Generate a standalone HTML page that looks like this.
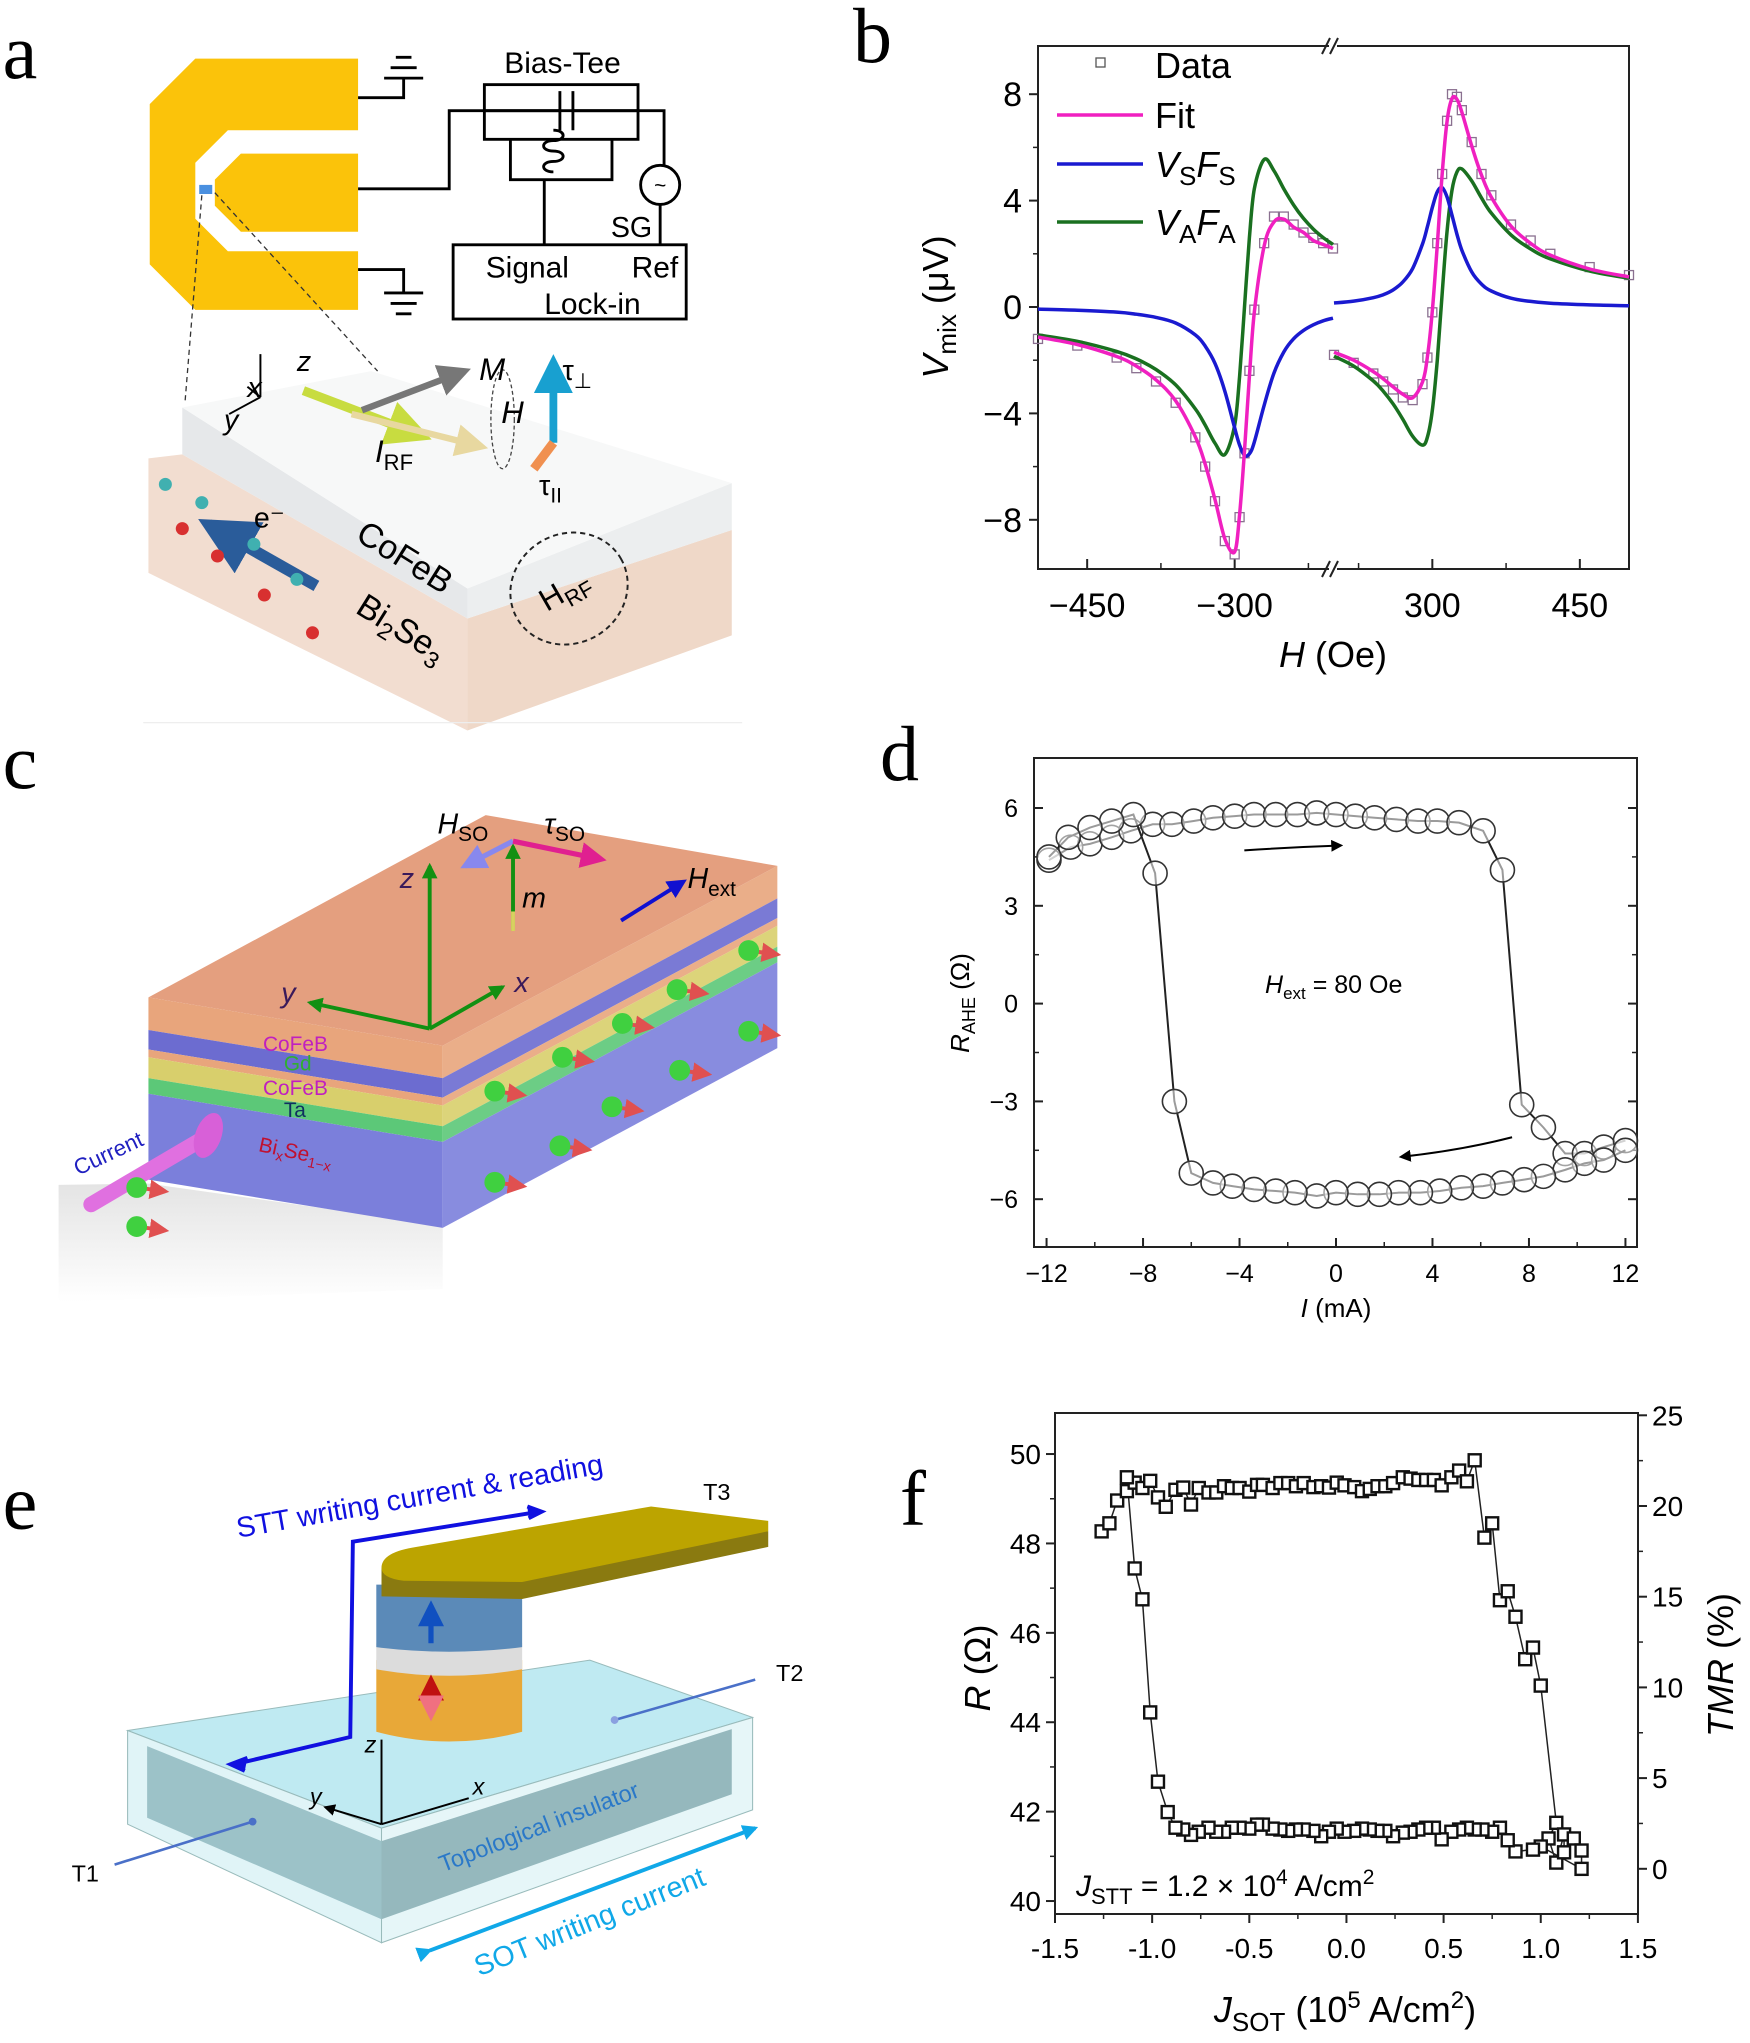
<!DOCTYPE html>
<html><head><meta charset="utf-8"><style>
html,body{margin:0;padding:0;background:#fff;}
svg{display:block;font-family:"Liberation Sans",sans-serif;}
.lbl{font-family:"Liberation Serif",serif;font-size:60px;}
</style></head><body>
<svg id="fig" width="1750" height="2043" viewBox="0 0 1750 2043" xmlns="http://www.w3.org/2000/svg">
<defs>
<marker id="ah" viewBox="0 0 10 10" refX="8" refY="5" markerWidth="5" markerHeight="5" orient="auto"><path d="M0,0L10,5L0,10z" fill="context-stroke"/></marker>
<marker id="ahk" viewBox="0 0 10 10" refX="8" refY="5" markerWidth="6" markerHeight="6" orient="auto"><path d="M0,0L10,5L0,10z" fill="#000"/></marker>
<marker id="ahb" viewBox="0 0 10 10" refX="8" refY="5" markerWidth="4" markerHeight="4" orient="auto"><path d="M0,0L10,5L0,10z" fill="#1010e0"/></marker>
<marker id="ahc" viewBox="0 0 10 10" refX="8" refY="5" markerWidth="4" markerHeight="4" orient="auto"><path d="M0,0L10,5L0,10z" fill="#10a8e8"/></marker>
<marker id="ahg" viewBox="0 0 10 10" refX="8" refY="5" markerWidth="4" markerHeight="4" orient="auto"><path d="M0,0L10,5L0,10z" fill="#129012"/></marker>
<linearGradient id="shadowGrad" x1="0" y1="0" x2="0" y2="1"><stop offset="0" stop-color="#ddd"/><stop offset="1" stop-color="#fff"/></linearGradient>
</defs>

<g transform="scale(1.30208)">
 <g>
  <text class="lbl" x="2" y="60">a</text>
  <path d="M150,45 L275,45 L275,100 L175,100 L150,125 L150,168 L175,193 L275,193 L275,238 L150,238 L115,203 L115,80 Z" fill="#fbc30a"/>
  <path d="M185,118 L275,118 L275,178 L185,178 L165,158 L165,138 Z" fill="#fbc30a"/>
  <rect x="153" y="142" width="10" height="7" fill="#4a90e0"/>
  <g fill="none" stroke="#000" stroke-width="2.2">
   <path d="M275,75 L310,75 L310,60 M295,60 L325,60 M300,52 L320,52 M304,44 L316,44"/>
   <path d="M275,207 L310,207 L310,225 M295,225 L325,225 M300,233 L320,233 M304,241 L316,241"/>
   <path d="M275,145 L345,145 L345,85 L510,85 L510,127"/>
   <rect x="372" y="65" width="118" height="42"/>
   <path d="M430,70 L430,100 M440,70 L440,100 M372,85 L430,85 M440,85 L490,85"/>
   <path d="M392,107 L392,138 L470,138 L470,107 M418,138 L418,188"/>
   <path d="M425,100 c10,0 10,8 0,8 c-10,0 -10,8 0,8 c10,0 10,8 0,8 c-10,0 -10,8 0,8"/>
   <circle cx="507" cy="142" r="15"/>
   <path d="M507,157 L507,188"/>
   <rect x="348" y="188" width="179" height="57"/>
  </g>
  <text x="432" y="56" font-size="23" text-anchor="middle">Bias-Tee</text>
  <text x="507" y="148" font-size="16" text-anchor="middle">~</text>
  <text x="485" y="182" font-size="22" text-anchor="middle">SG</text>
  <text x="405" y="213" font-size="23" text-anchor="middle">Signal</text>
  <text x="503" y="213" font-size="23" text-anchor="middle">Ref</text>
  <text x="455" y="241" font-size="23" text-anchor="middle">Lock-in</text>
  <path d="M155,150 L142,310 M165,148 L290,285" stroke="#333" stroke-width="1" stroke-dasharray="4,3" fill="none"/>
  <polygon points="114,352 140,349 359,475 359,561 114,440" fill="#f2ddd0"/>
  <polygon points="359,475 562,407 562,488 359,561" fill="#efd8c8"/>
  <polygon points="140,313 140,349 359,475 359,452" fill="#e6e8ea"/>
  <polygon points="359,452 562,371 562,407 359,475" fill="#eceeef"/>
  <polygon points="140,313 285,285 562,371 359,452" fill="#f7f8f8"/>
  <path d="M110,555 L570,555" stroke="#eee" stroke-width="1"/>
  <g>
   <line x1="233" y1="300" x2="325" y2="335" stroke="#c8dc40" stroke-width="7" marker-end="url(#ah)"/>
   <line x1="278" y1="315" x2="357" y2="285" stroke="#777" stroke-width="5" marker-end="url(#ah)"/>
   <line x1="270" y1="318" x2="370" y2="343" stroke="#e8d8a0" stroke-width="5" marker-end="url(#ah)"/>
   <line x1="425" y1="340" x2="425" y2="278" stroke="#18a0d0" stroke-width="6" marker-end="url(#ah)"/>
   <path d="M425,340 L410,360" stroke="#f09050" stroke-width="7" fill="none"/>
   <ellipse cx="386" cy="322" rx="9" ry="38" fill="none" stroke="#444" stroke-width="1" stroke-dasharray="3,2"/>
   <ellipse cx="437" cy="452" rx="46" ry="42" transform="rotate(-30 437 452)" fill="none" stroke="#222" stroke-width="1.5" stroke-dasharray="4,3"/>
   <line x1="243" y1="450" x2="160" y2="403" stroke="#2a5c9a" stroke-width="9" marker-end="url(#ah)"/>
   <path d="M200,305 L200,272 M200,305 L176,318 M200,305 L190,297" stroke="#000" stroke-width="1.5" fill="none"/>
  </g>
  <g>
   <circle cx="127" cy="372" r="5" fill="#40b0b0"/><circle cx="155" cy="386" r="5" fill="#40b0b0"/><circle cx="195" cy="418" r="5" fill="#40b0b0"/><circle cx="228" cy="445" r="5" fill="#40b0b0"/>
   <circle cx="140" cy="406" r="5" fill="#d83030"/><circle cx="167" cy="427" r="5" fill="#d83030"/><circle cx="203" cy="457" r="5" fill="#d83030"/><circle cx="240" cy="486" r="5" fill="#d83030"/>
  </g>
  <text x="228" y="285" font-size="22" font-style="italic">z</text>
  <text x="190" y="305" font-size="22" font-style="italic">x</text>
  <text x="172" y="330" font-size="22" font-style="italic">y</text>
  <text x="368" y="292" font-size="24" font-style="italic">M</text>
  <text x="385" y="325" font-size="24" font-style="italic">H</text>
  <text x="288" y="355" font-size="24" font-style="italic">I<tspan font-size="17" font-style="normal" dy="6">RF</tspan></text>
  <text x="432" y="292" font-size="22">τ<tspan font-size="16" dy="6">⊥</tspan></text>
  <text x="414" y="380" font-size="22">τ<tspan font-size="16" dy="6">II</tspan></text>
  <text x="195" y="405" font-size="22">e⁻</text>
  <text x="272" y="414" font-size="26" transform="rotate(32 272 414)">CoFeB</text>
  <text x="272" y="470" font-size="26" transform="rotate(32 272 470)">Bi<tspan font-size="18" dy="6">2</tspan><tspan dy="-6">Se</tspan><tspan font-size="18" dy="6">3</tspan></text>
  <text x="420" y="470" font-size="24" transform="rotate(-30 420 470)">H<tspan font-size="17" dy="6">RF</tspan></text>
 </g>

 <g>
  <text class="lbl" x="2" y="605">c</text>
  <path d="M45,910 L114,909 L340,941 L340,990 L45,1000 Z" fill="url(#shadowGrad)" opacity="0.8"/>
  <g id="cLayers"></g>
  <polygon points="114,766 373,626 597,665 340,803" fill="#e49f7f"/>
  <g>
   <line x1="330" y1="790" x2="330" y2="665" stroke="#129012" stroke-width="3" marker-end="url(#ahg)"/>
   <line x1="330" y1="790" x2="238" y2="770" stroke="#129012" stroke-width="3" marker-end="url(#ahg)"/>
   <line x1="330" y1="790" x2="386" y2="758" stroke="#129012" stroke-width="3" marker-end="url(#ahg)"/>
   <line x1="394" y1="715" x2="394" y2="650" stroke="#129012" stroke-width="3" marker-end="url(#ahg)"/>
   <line x1="394" y1="700" x2="394" y2="715" stroke="#d8d060" stroke-width="3"/>
   <line x1="394" y1="646" x2="357" y2="665" stroke="#8888ee" stroke-width="4" marker-end="url(#ah)"/>
   <line x1="394" y1="646" x2="462" y2="660" stroke="#e02090" stroke-width="4" marker-end="url(#ah)"/>
   <line x1="477" y1="707" x2="525" y2="677" stroke="#1010d0" stroke-width="3" marker-end="url(#ah)"/>
   <path d="M70,925 L155,875" stroke="#e070e0" stroke-width="12" stroke-linecap="round"/>
   <ellipse cx="160" cy="872" rx="10" ry="18" fill="#d860d8" transform="rotate(20 160 872)"/>
  </g>
  <g id="cBalls"></g>
  <text x="336" y="640" font-size="22" font-style="italic">H<tspan font-size="16" font-style="normal" dy="6">SO</tspan></text>
  <text x="418" y="640" font-size="22" font-style="italic">τ<tspan font-size="16" font-style="normal" dy="6">SO</tspan></text>
  <text x="528" y="682" font-size="22" font-style="italic">H<tspan font-size="16" font-style="normal" dy="6">ext</tspan></text>
  <text x="307" y="682" font-size="22" font-style="italic" fill="#3a1a5a">z</text>
  <text x="401" y="697" font-size="22" font-style="italic">m</text>
  <text x="395" y="762" font-size="22" font-style="italic" fill="#3a1a5a">x</text>
  <text x="216" y="770" font-size="22" font-style="italic" fill="#3a1a5a">y</text>
  <text x="202" y="807" font-size="16" fill="#c020c0">CoFeB</text>
  <text x="218" y="822" font-size="16" fill="#30b030">Gd</text>
  <text x="202" y="841" font-size="16" fill="#c020c0">CoFeB</text>
  <text x="218" y="858" font-size="16" fill="#103060">Ta</text>
  <text x="198" y="884" font-size="16" fill="#c01030" transform="rotate(12 198 884)">Bi<tspan font-size="11" dy="4">x</tspan><tspan dy="-4">Se</tspan><tspan font-size="11" dy="4">1−x</tspan></text>
  <text x="60" y="903" font-size="17" fill="#2020c0" transform="rotate(-25 60 903)">Current</text>
 </g>

 <g>
  <text class="lbl" x="2" y="1174">e</text>
  <polygon points="98,1329 453,1275 578,1319 293,1404" fill="#bfeaf2" stroke="#9bb" stroke-width="0.8"/>
  <polygon points="98,1329 293,1404 293,1492 98,1401" fill="#e0f4f7" stroke="#9bb" stroke-width="0.8"/>
  <polygon points="293,1404 578,1319 578,1390 293,1492" fill="#e6f6f8" stroke="#9bb" stroke-width="0.8"/>
  <polygon points="113,1341 293,1414 293,1474 113,1396" fill="#9cc2c8"/>
  <polygon points="293,1414 562,1328 562,1378 293,1474" fill="#95b8bd"/>
  <g>
   <path d="M289,1275 L401,1275 L401,1330 Q345,1345 289,1330 Z" fill="#e8a838"/>
   <path d="M289,1262 L401,1262 L401,1282 Q345,1292 289,1282 Z" fill="#dcdcdc"/>
   <path d="M289,1217 L401,1217 L401,1265 Q345,1272 289,1265 Z" fill="#5b8ab8"/>
   <line x1="331" y1="1262" x2="331" y2="1233" stroke="#1050c0" stroke-width="4" marker-end="url(#ah)"/>
   <line x1="331" y1="1305" x2="331" y2="1290" stroke="#c01010" stroke-width="4" marker-end="url(#ah)"/>
   <line x1="331" y1="1305" x2="331" y2="1318" stroke="#f07080" stroke-width="4" marker-end="url(#ah)"/>
  </g>
  <polygon points="293,1204 500,1165 590,1176 590,1188 401,1228 293,1226" fill="#8a7a10"/>
  <path d="M293,1204 Q293,1192 320,1188 L500,1157 L590,1168 L590,1176 L401,1215 L310,1214 Q293,1212 293,1204 Z" fill="#bca400"/>
  <path d="M414,1161 L271,1184 L269,1334 L180,1355" fill="none" stroke="#1010e0" stroke-width="3"/>
  <path d="M190,1350 L177,1355 L188,1360" fill="#1010e0" stroke="#1010e0" stroke-width="3"/>
  <path d="M405,1157 L416,1161 L406,1166" fill="#1010e0" stroke="#1010e0" stroke-width="3"/>
  <line x1="330" y1="1498" x2="580" y2="1404" stroke="#10a8e8" stroke-width="3" marker-start="url(#ahc)" marker-end="url(#ahc)"/>
  <path d="M293,1401 L293,1336 M293,1401 L360,1381 M293,1401 L250,1388" stroke="#000" stroke-width="1.5" fill="none" marker-end="url(#ahk)"/>
  <text x="280" y="1346" font-size="18" font-style="italic">z</text>
  <text x="363" y="1378" font-size="18" font-style="italic">x</text>
  <text x="238" y="1386" font-size="18" font-style="italic">y</text>
  <text x="183" y="1181" font-size="22" fill="#1010e0" transform="rotate(-10 183 1181)">STT writing current &amp; reading</text>
  <text x="368" y="1518" font-size="22" fill="#10a8e8" transform="rotate(-22 368 1518)">SOT writing current</text>
  <text x="340" y="1438" font-size="18" fill="#2a78c8" transform="rotate(-21 340 1438)">Topological insulator</text>
  <text x="540" y="1152" font-size="18">T3</text>
  <text x="596" y="1291" font-size="18">T2</text>
  <text x="55" y="1445" font-size="18">T1</text>
  <path d="M88,1432 L194,1399 M580,1290 L472,1321" stroke="#4a70c8" stroke-width="2"/>
  <circle cx="194" cy="1399" r="3" fill="#4a70c8"/><circle cx="472" cy="1321" r="3" fill="#8aa0e0"/>
 </g>
</g>

<text class="lbl" x="853" y="62" style="font-size:78px">b</text>
<text class="lbl" x="880" y="780" style="font-size:78px">d</text>
<text class="lbl" x="900" y="1525" style="font-size:78px">f</text>

<g id="chartB"></g>
<g id="chartD"></g>
<g id="chartF"></g>
</svg>

<script>
const HL = [-500,-460,-420,-400,-380,-360,-340,-330,-320,-310,-300,-295,-290,-285,-280,-270,-260,-250,-240,-230,-220,-210,-200];
const VS_L = [-0.08,-0.12,-0.19,-0.27,-0.39,-0.60,-1.05,-1.47,-2.12,-3.16,-4.55,-5.19,-5.58,-5.52,-5.08,-3.69,-2.48,-1.69,-1.19,-0.88,-0.67,-0.52,-0.42];
const VA_L = [-1.05,-1.29,-1.67,-1.95,-2.35,-2.93,-3.83,-4.44,-5.12,-5.55,-4.44,-2.61,0,2.61,4.44,5.55,5.12,4.44,3.83,3.33,2.93,2.61,2.35];
const FIT_L = [-1.13,-1.41,-1.86,-2.22,-2.74,-3.53,-4.88,-5.91,-7.24,-8.71,-9.2,-7.8,-5.4,-2.6,-0.2,2.3,3.2,3.3,3.0,2.8,2.5,2.35,2.2];
const DATA_L = [-1.2,-1.45,-1.9,-2.3,-2.8,-3.6,-4.9,-6.0,-7.3,-8.8,-9.3,-7.9,-5.5,-2.4,-0.1,2.4,3.4,3.4,3.1,2.8,2.6,2.4,2.2];
const HR = [200,220,240,250,260,270,280,290,295,300,305,310,315,320,325,330,340,350,360,380,400,420,460,500];
const VS_R = [0.15,0.22,0.35,0.46,0.64,0.94,1.45,2.37,3.02,3.74,4.33,4.49,4.13,3.45,2.74,2.14,1.32,0.86,0.60,0.33,0.21,0.14,0.08,0.05];
const VA_R = [-1.85,-2.22,-2.78,-3.16,-3.64,-4.22,-4.86,-5.19,-4.89,-3.89,-2.0,0.52,2.86,4.39,5.07,5.19,4.74,4.10,3.53,2.71,2.18,1.81,1.35,1.08];
const FIT_R = [-1.70,-2.00,-2.43,-2.70,-3.00,-3.28,-3.41,-2.82,-1.87,-0.15,2.33,5.01,6.99,7.84,7.81,7.33,6.06,4.96,4.13,3.04,2.39,1.95,1.43,1.13];
const DATA_R = [-1.8,-2.1,-2.5,-2.8,-3.1,-3.4,-3.5,-2.9,-1.9,-0.2,2.4,5.0,7.0,8.0,7.9,7.4,6.2,5.0,4.2,3.1,2.5,2.0,1.5,1.2];
const B_YTICKS = [8,4,0,-4,-8];
const B_XTICKS = [-450,-300,300,450];

const D_I_UP = [-11.9,-11.0,-10.2,-9.3,-8.5,-7.6,-6.8,-5.9,-5.1,-4.2,-3.4,-2.5,-1.6,-0.8,0,0.8,1.6,2.5,3.4,4.2,5.1,6.1,6.9,7.7,8.6,9.5,10.3,11.1,12.0];
const D_R_UP = [4.4,4.8,4.9,5.1,5.3,5.5,5.5,5.6,5.7,5.75,5.8,5.8,5.8,5.85,5.8,5.75,5.7,5.65,5.6,5.6,5.55,5.3,4.1,-3.1,-3.8,-4.6,-4.6,-4.4,-4.2];
const D_I_DN = [12.0,11.1,10.3,9.5,8.6,7.8,6.9,6.1,5.2,4.3,3.5,2.6,1.8,0.9,0,-0.8,-1.7,-2.5,-3.4,-4.3,-5.1,-6.0,-6.7,-7.5,-8.4,-9.3,-10.2,-11.1,-11.9];
const D_R_DN = [-4.5,-4.8,-4.9,-5.1,-5.3,-5.4,-5.5,-5.6,-5.65,-5.75,-5.8,-5.8,-5.85,-5.85,-5.8,-5.9,-5.8,-5.75,-5.7,-5.6,-5.5,-5.2,-3.0,4.0,5.8,5.6,5.4,5.1,4.5];
const D_YTICKS = [6,3,0,-3,-6];
const D_XTICKS = [-12,-8,-4,0,4,8,12];

const F_J = [-1.26,-1.22,-1.18,-1.13,-1.09,-1.05,-1.01,-0.97,-0.93,-0.88,-0.84,-0.80,-0.76,-0.71,-0.67,-0.63,-0.59,-0.55,-0.50,-0.46,-0.43,-0.38,-0.34,-0.30,-0.26,-0.22,-0.17,-0.13,-0.09,-0.05,-0.01,0.04,0.08,0.12,0.16,0.20,0.24,0.29,0.33,0.37,0.41,0.45,0.49,0.54,0.58,0.62,0.66,0.71,0.75,0.79,0.83,0.87,0.92,0.96,1.00,1.08,1.04,1.08,1.12,1.12,1.17,1.21,1.21,1.00,0.96,0.87,0.83,0.79,0.75,0.70,0.66,0.62,0.58,0.54,0.49,0.45,0.41,0.37,0.33,0.29,0.24,0.20,0.16,0.12,0.08,0.04,-0.01,-0.05,-0.09,-0.13,-0.17,-0.22,-0.26,-0.30,-0.34,-0.38,-0.43,-0.46,-0.50,-0.55,-0.59,-0.63,-0.67,-0.71,-0.76,-0.80,-0.84,-0.88,-0.92,-0.97,-1.01,-1.05,-1.09,-1.13];
const F_R = [48.27,48.45,48.96,49.17,49.36,49.24,49.40,49.03,48.82,49.20,49.25,48.87,49.24,49.14,49.14,49.28,49.24,49.24,49.16,49.31,49.31,49.24,49.35,49.35,49.28,49.35,49.26,49.28,49.25,49.36,49.30,49.26,49.17,49.22,49.28,49.28,49.35,49.48,49.45,49.42,49.42,49.42,49.30,49.48,49.63,49.39,49.86,48.13,48.45,46.73,46.93,46.36,45.41,45.67,44.82,41.75,41.40,40.86,41.49,41.09,41.40,41.13,40.72,41.22,41.15,41.11,41.36,41.64,41.55,41.60,41.60,41.64,41.60,41.55,41.38,41.64,41.64,41.60,41.55,41.53,41.45,41.57,41.57,41.60,41.62,41.57,41.55,41.62,41.55,41.45,41.57,41.60,41.60,41.57,41.60,41.62,41.71,41.71,41.62,41.64,41.64,41.55,41.55,41.64,41.55,41.48,41.60,41.64,41.99,42.67,44.22,46.75,47.44,49.48];
const F_XTICKS = [-1.5,-1.0,-0.5,0.0,0.5,1.0,1.5];
const F_YTICKS = [40,42,44,46,48,50];
const F_Y2TICKS = [0,5,10,15,20,25];

const NS = 'http://www.w3.org/2000/svg';
function mk(parent, tag, attrs, txt){
  const e = document.createElementNS(NS, tag);
  for (const k in attrs) e.setAttribute(k, attrs[k]);
  if (txt !== undefined) e.textContent = txt;
  parent.appendChild(e);
  return e;
}
function smooth(pts){
  let d = 'M' + pts[0][0].toFixed(1) + ',' + pts[0][1].toFixed(1);
  for (let i=0;i<pts.length-1;i++){
    const p0 = pts[i-1]||pts[i], p1=pts[i], p2=pts[i+1], p3=pts[i+2]||pts[i+1];
    const c1x = p1[0]+(p2[0]-p0[0])/6, c1y = p1[1]+(p2[1]-p0[1])/6;
    const c2x = p2[0]-(p3[0]-p1[0])/6, c2y = p2[1]-(p3[1]-p1[1])/6;
    d += ' C'+c1x.toFixed(1)+','+c1y.toFixed(1)+' '+c2x.toFixed(1)+','+c2y.toFixed(1)+' '+p2[0].toFixed(1)+','+p2[1].toFixed(1);
  }
  return d;
}

(function(){
  const g = document.getElementById('chartB');
  const X0=1038, X1=1629, Y0=46, Y1=569;
  const xB = H => H < 0 ? X0 + (H+500)*295/300 : 1334 + (H-200)*295/300;
  const yB = v => 307 - v*26.6;
  const box = mk(g,'path',{d:`M1329,${Y0} L${X0},${Y0} L${X0},${Y1} L1329,${Y1} M1337,${Y0} L${X1},${Y0} L${X1},${Y1} L1337,${Y1}`,fill:'none',stroke:'#222','stroke-width':2});
  
  
  [Y0,Y1].forEach(yy=>{
    const br = mk(g,'path',{d:`M1322,${yy+8} L1330,${yy-8} M1330,${yy+8} L1338,${yy-8}`,stroke:'#222','stroke-width':2,fill:'none'});
    
    
  });
  B_YTICKS.forEach(v=>{
    const t = mk(g,'line',{x1:X0-9,x2:X0,y1:yB(v),y2:yB(v),stroke:'#222','stroke-width':2});
    
    
    const l = mk(g,'text',{x:X0-16,y:yB(v)+12,'font-size':34,'text-anchor':'end'}, v<0?'−'+Math.abs(v):String(v));
    
    
  });
  [6,2,-2,-6].forEach(v=>{ mk(g,'line',{x1:X0-5,x2:X0,y1:yB(v),y2:yB(v),stroke:'#222','stroke-width':1.5}); });
  B_XTICKS.forEach(v=>{
    const t = mk(g,'line',{x1:xB(v),x2:xB(v),y1:Y1,y2:Y1-10,stroke:'#222','stroke-width':2});
    
    
    const l = mk(g,'text',{x:xB(v),y:Y1+48,'font-size':34,'text-anchor':'middle'}, v<0?'−'+Math.abs(v):String(v));
    
    
  });
  [-375,-225,225,375].forEach(v=>{ mk(g,'line',{x1:xB(v),x2:xB(v),y1:Y1,y2:Y1-6,stroke:'#222','stroke-width':1.5}); });
  const xt = mk(g,'text',{x:1333,y:667,'font-size':36,'text-anchor':'middle'});
  xt.innerHTML = '<tspan font-style="italic">H</tspan> (Oe)';
  
  
  const yt = mk(g,'text',{x:0,y:0,'font-size':36,'text-anchor':'middle',transform:'translate(948,307) rotate(-90)'});
  yt.innerHTML = '<tspan font-style="italic">V</tspan><tspan font-size="26" dy="8">mix</tspan><tspan dy="-8"> (μV)</tspan>';
  
  
  function series(H, V, color, w, name){
    const p = mk(g,'path',{d:smooth(H.map((h,i)=>[xB(h),yB(V[i])])),fill:'none',stroke:color,'stroke-width':w});
    
    
  }
  [[HL,DATA_L],[HR,DATA_R]].forEach(([H,D])=>{
    H.forEach((h,i)=>{
      const s = mk(g,'rect',{x:xB(h)-4.5,y:yB(D[i])-4.5,width:9,height:9,fill:'none',stroke:'#8a7090','stroke-width':1.3});
      
      
    });
  });
  series(HL, VA_L, '#1a7020', 3.5, 'va-fa-line-left');
  series(HR, VA_R, '#1a7020', 3.5, 'va-fa-line-right');
  series(HL, VS_L, '#1a1ad0', 3.5, 'vs-fs-line-left');
  series(HR, VS_R, '#1a1ad0', 3.5, 'vs-fs-line-right');
  series(HL, FIT_L, '#f020c0', 3.5, 'fit-line-left');
  series(HR, FIT_R, '#f020c0', 3.5, 'fit-line-right');
  const lg = mk(g,'g',{});
  
  
  mk(lg,'rect',{x:1096,y:58,width:9,height:9,fill:'none',stroke:'#555','stroke-width':1.3});
  mk(lg,'text',{x:1155,y:78,'font-size':36},'Data');
  mk(lg,'line',{x1:1057,x2:1143,y1:115,y2:115,stroke:'#f020c0','stroke-width':3.5});
  mk(lg,'text',{x:1155,y:128,'font-size':36},'Fit');
  mk(lg,'line',{x1:1057,x2:1143,y1:164,y2:164,stroke:'#1a1ad0','stroke-width':3.5});
  const l3 = mk(lg,'text',{x:1155,y:177,'font-size':36});
  l3.innerHTML = '<tspan font-style="italic">V</tspan><tspan font-size="26" dy="8">S</tspan><tspan dy="-8" font-style="italic">F</tspan><tspan font-size="26" dy="8">S</tspan>';
  mk(lg,'line',{x1:1057,x2:1143,y1:222,y2:222,stroke:'#1a7020','stroke-width':3.5});
  const l4 = mk(lg,'text',{x:1155,y:235,'font-size':36});
  l4.innerHTML = '<tspan font-style="italic">V</tspan><tspan font-size="26" dy="8">A</tspan><tspan dy="-8" font-style="italic">F</tspan><tspan font-size="26" dy="8">A</tspan>';
})();

(function(){
  const g = document.getElementById('chartD');
  const X0=1034, X1=1637, Y0=758, Y1=1247;
  const xD = i => 1336 + i*24.12;
  const yD = r => 1003.6 - r*32.6;
  const fr = mk(g,'rect',{x:X0,y:Y0,width:X1-X0,height:Y1-Y0,fill:'none',stroke:'#222','stroke-width':2});
  
  
  D_YTICKS.forEach(v=>{
    mk(g,'line',{x1:X0,x2:X0+9,y1:yD(v),y2:yD(v),stroke:'#222','stroke-width':2});
    mk(g,'line',{x1:X1,x2:X1-9,y1:yD(v),y2:yD(v),stroke:'#222','stroke-width':2});
    const l = mk(g,'text',{x:X0-16,y:yD(v)+9,'font-size':25,'text-anchor':'end'}, v<0?'−'+Math.abs(v):String(v));
    
    
  });
  [4.5,1.5,-1.5,-4.5].forEach(v=>{ mk(g,'line',{x1:X0,x2:X0+5,y1:yD(v),y2:yD(v),stroke:'#222','stroke-width':1.5}); mk(g,'line',{x1:X1,x2:X1-5,y1:yD(v),y2:yD(v),stroke:'#222','stroke-width':1.5}); });
  D_XTICKS.forEach(v=>{
    mk(g,'line',{x1:xD(v),x2:xD(v),y1:Y1,y2:Y1-9,stroke:'#222','stroke-width':2});
    const l = mk(g,'text',{x:xD(v),y:Y1+35,'font-size':25,'text-anchor':'middle'}, v<0?'−'+Math.abs(v):String(v));
    
    
  });
  [-10,-6,-2,2,6,10].forEach(v=>{ mk(g,'line',{x1:xD(v),x2:xD(v),y1:Y1,y2:Y1-5,stroke:'#222','stroke-width':1.5}); });
  const xt = mk(g,'text',{x:1336,y:1317,'font-size':26,'text-anchor':'middle'});
  xt.innerHTML = '<tspan font-style="italic">I</tspan> (mA)';
  
  
  const yt = mk(g,'text',{x:0,y:0,'font-size':26,'text-anchor':'middle',transform:'translate(969,1003) rotate(-90)'});
  yt.innerHTML = '<tspan font-style="italic">R</tspan><tspan font-size="18" dy="6">AHE</tspan><tspan dy="-6"> (Ω)</tspan>';
  
  
  [[D_I_UP,D_R_UP],[D_I_DN,D_R_DN]].forEach(([I,R],k)=>{
    const pts = I.map((v,i)=>xD(v)+','+yD(R[i])).join(' ');
    const pl = mk(g,'polyline',{points:pts,fill:'none',stroke:'#222','stroke-width':2});
    
    
    I.forEach((v,i)=>{
      const c = mk(g,'circle',{cx:xD(v),cy:yD(R[i]),r:12,fill:'rgba(255,255,255,0.55)',stroke:'#333','stroke-width':1.6});
      
      
    });
  });
  const a1 = mk(g,'path',{d:`M${xD(-3.8)},${yD(4.7)} Q${xD(-1.8)},${yD(4.8)} ${xD(0.2)},${yD(4.85)}`,fill:'none',stroke:'#000','stroke-width':2,'marker-end':'url(#ahk)'});
  
  
  const a2 = mk(g,'path',{d:`M${xD(7.3)},${yD(-4.1)} Q${xD(5.2)},${yD(-4.5)} ${xD(2.7)},${yD(-4.7)}`,fill:'none',stroke:'#000','stroke-width':2,'marker-end':'url(#ahk)'});
  
  
  const ann = mk(g,'text',{x:1265,y:993,'font-size':25});
  ann.innerHTML = '<tspan font-style="italic">H</tspan><tspan font-size="17" dy="6">ext</tspan><tspan dy="-6"> = 80 Oe</tspan>';
  
  
})();

(function(){
  const g = document.getElementById('chartF');
  const X0=1055, X1=1638, Y0=1413, Y1=1914;
  const xF = j => X0 + (j+1.5)*194.3;
  const yF = r => Y1 - (r-39.71)*44.7;
  const yT = t => 1868.8 - t*18.14;
  const fr = mk(g,'rect',{x:X0,y:Y0,width:X1-X0,height:Y1-Y0,fill:'none',stroke:'#222','stroke-width':2});
  
  
  F_YTICKS.forEach(v=>{
    mk(g,'line',{x1:X0-9,x2:X0,y1:yF(v),y2:yF(v),stroke:'#222','stroke-width':2});
    const l = mk(g,'text',{x:X0-14,y:yF(v)+10,'font-size':28,'text-anchor':'end'}, String(v));
    
    
  });
  [41,43,45,47,49].forEach(v=>{ mk(g,'line',{x1:X0-5,x2:X0,y1:yF(v),y2:yF(v),stroke:'#222','stroke-width':1.5}); });
  F_Y2TICKS.forEach(v=>{
    mk(g,'line',{x1:X1,x2:X1+9,y1:yT(v),y2:yT(v),stroke:'#222','stroke-width':2});
    const l = mk(g,'text',{x:X1+14,y:yT(v)+10,'font-size':28}, String(v));
    
    
  });
  [2.5,7.5,12.5,17.5,22.5].forEach(v=>{ mk(g,'line',{x1:X1,x2:X1+5,y1:yT(v),y2:yT(v),stroke:'#222','stroke-width':1.5}); });
  F_XTICKS.forEach(v=>{
    mk(g,'line',{x1:xF(v),x2:xF(v),y1:Y1,y2:Y1+9,stroke:'#222','stroke-width':2});
    const l = mk(g,'text',{x:xF(v),y:Y1+44,'font-size':28,'text-anchor':'middle'}, v.toFixed(1));
    
    
  });
  [-1.25,-0.75,-0.25,0.25,0.75,1.25].forEach(v=>{ mk(g,'line',{x1:xF(v),x2:xF(v),y1:Y1,y2:Y1+5,stroke:'#222','stroke-width':1.5}); });
  const xt = mk(g,'text',{x:1345,y:2022,'font-size':36,'text-anchor':'middle'});
  xt.innerHTML = '<tspan font-style="italic">J</tspan><tspan font-size="26" dy="9">SOT</tspan><tspan dy="-9"> (10</tspan><tspan font-size="24" dy="-14">5</tspan><tspan dy="14"> A/cm</tspan><tspan font-size="24" dy="-14">2</tspan><tspan dy="14">)</tspan>';
  
  
  const yt = mk(g,'text',{x:0,y:0,'font-size':36,'text-anchor':'middle',transform:'translate(990,1668) rotate(-90)'});
  yt.innerHTML = '<tspan font-style="italic">R</tspan> (Ω)';
  
  
  const yt2 = mk(g,'text',{x:0,y:0,'font-size':36,'text-anchor':'middle',transform:'translate(1733,1665) rotate(-90)'});
  yt2.innerHTML = '<tspan font-style="italic">TMR</tspan> (%)';
  
  
  const pl = mk(g,'polyline',{points:F_J.map((j,i)=>xF(j)+','+yF(F_R[i])).join(' '),fill:'none',stroke:'#222','stroke-width':1.5});
  
  
  F_J.forEach((j,i)=>{
    const s = mk(g,'rect',{x:xF(j)-6,y:yF(F_R[i])-6,width:12,height:12,fill:'#fff',stroke:'#111','stroke-width':2.4});
    
    
  });
  const ann = mk(g,'text',{x:1076,y:1896,'font-size':30});
  ann.innerHTML = '<tspan font-style="italic">J</tspan><tspan font-size="22" dy="8">STT</tspan><tspan dy="-8"> = 1.2 × 10</tspan><tspan font-size="21" dy="-12">4</tspan><tspan dy="12"> A/cm</tspan><tspan font-size="21" dy="-12">2</tspan>';
  
  
})();

(function(){
  const g = document.getElementById('cLayers');
  const layers = [[0,25,'#e8a57c'],[25,40,'#6c6cd0'],[40,46,'#e8a57c'],[46,62,'#d8cf6c'],[62,74,'#5cc878'],[74,140,'#7b7fdb']];
  const faces = [[[114,766],[340,803]],[[340,803],[597,665]]];
  faces.forEach((f,fi)=>{
    layers.forEach(L=>{
      const [P,Q]=f;
      const pts = [[P[0],P[1]+L[0]],[Q[0],Q[1]+L[0]],[Q[0],Q[1]+L[1]],[P[0],P[1]+L[1]]].map(p=>p.join(',')).join(' ');
      const pg = mk(g,'polygon',{points:pts,fill:L[2],opacity:fi?0.9:1});
      
      
    });
  });
  const b = document.getElementById('cBalls');
  const balls = [[575,730],[520,760],[478,786],[432,812],[380,838],[575,792],[522,822],[470,850],[430,880],[380,908],[105,912],[105,942]];
  balls.forEach(p=>{
    const a = mk(b,'line',{x1:p[0],y1:p[1],x2:p[0]+22,y2:p[1]+3,stroke:'#e05050','stroke-width':3,'marker-end':'url(#ah)'});
    
    
    const c = mk(b,'circle',{cx:p[0],cy:p[1],r:8,fill:'#40d040'});
    
    
  });
})();
</script>
</body></html>
